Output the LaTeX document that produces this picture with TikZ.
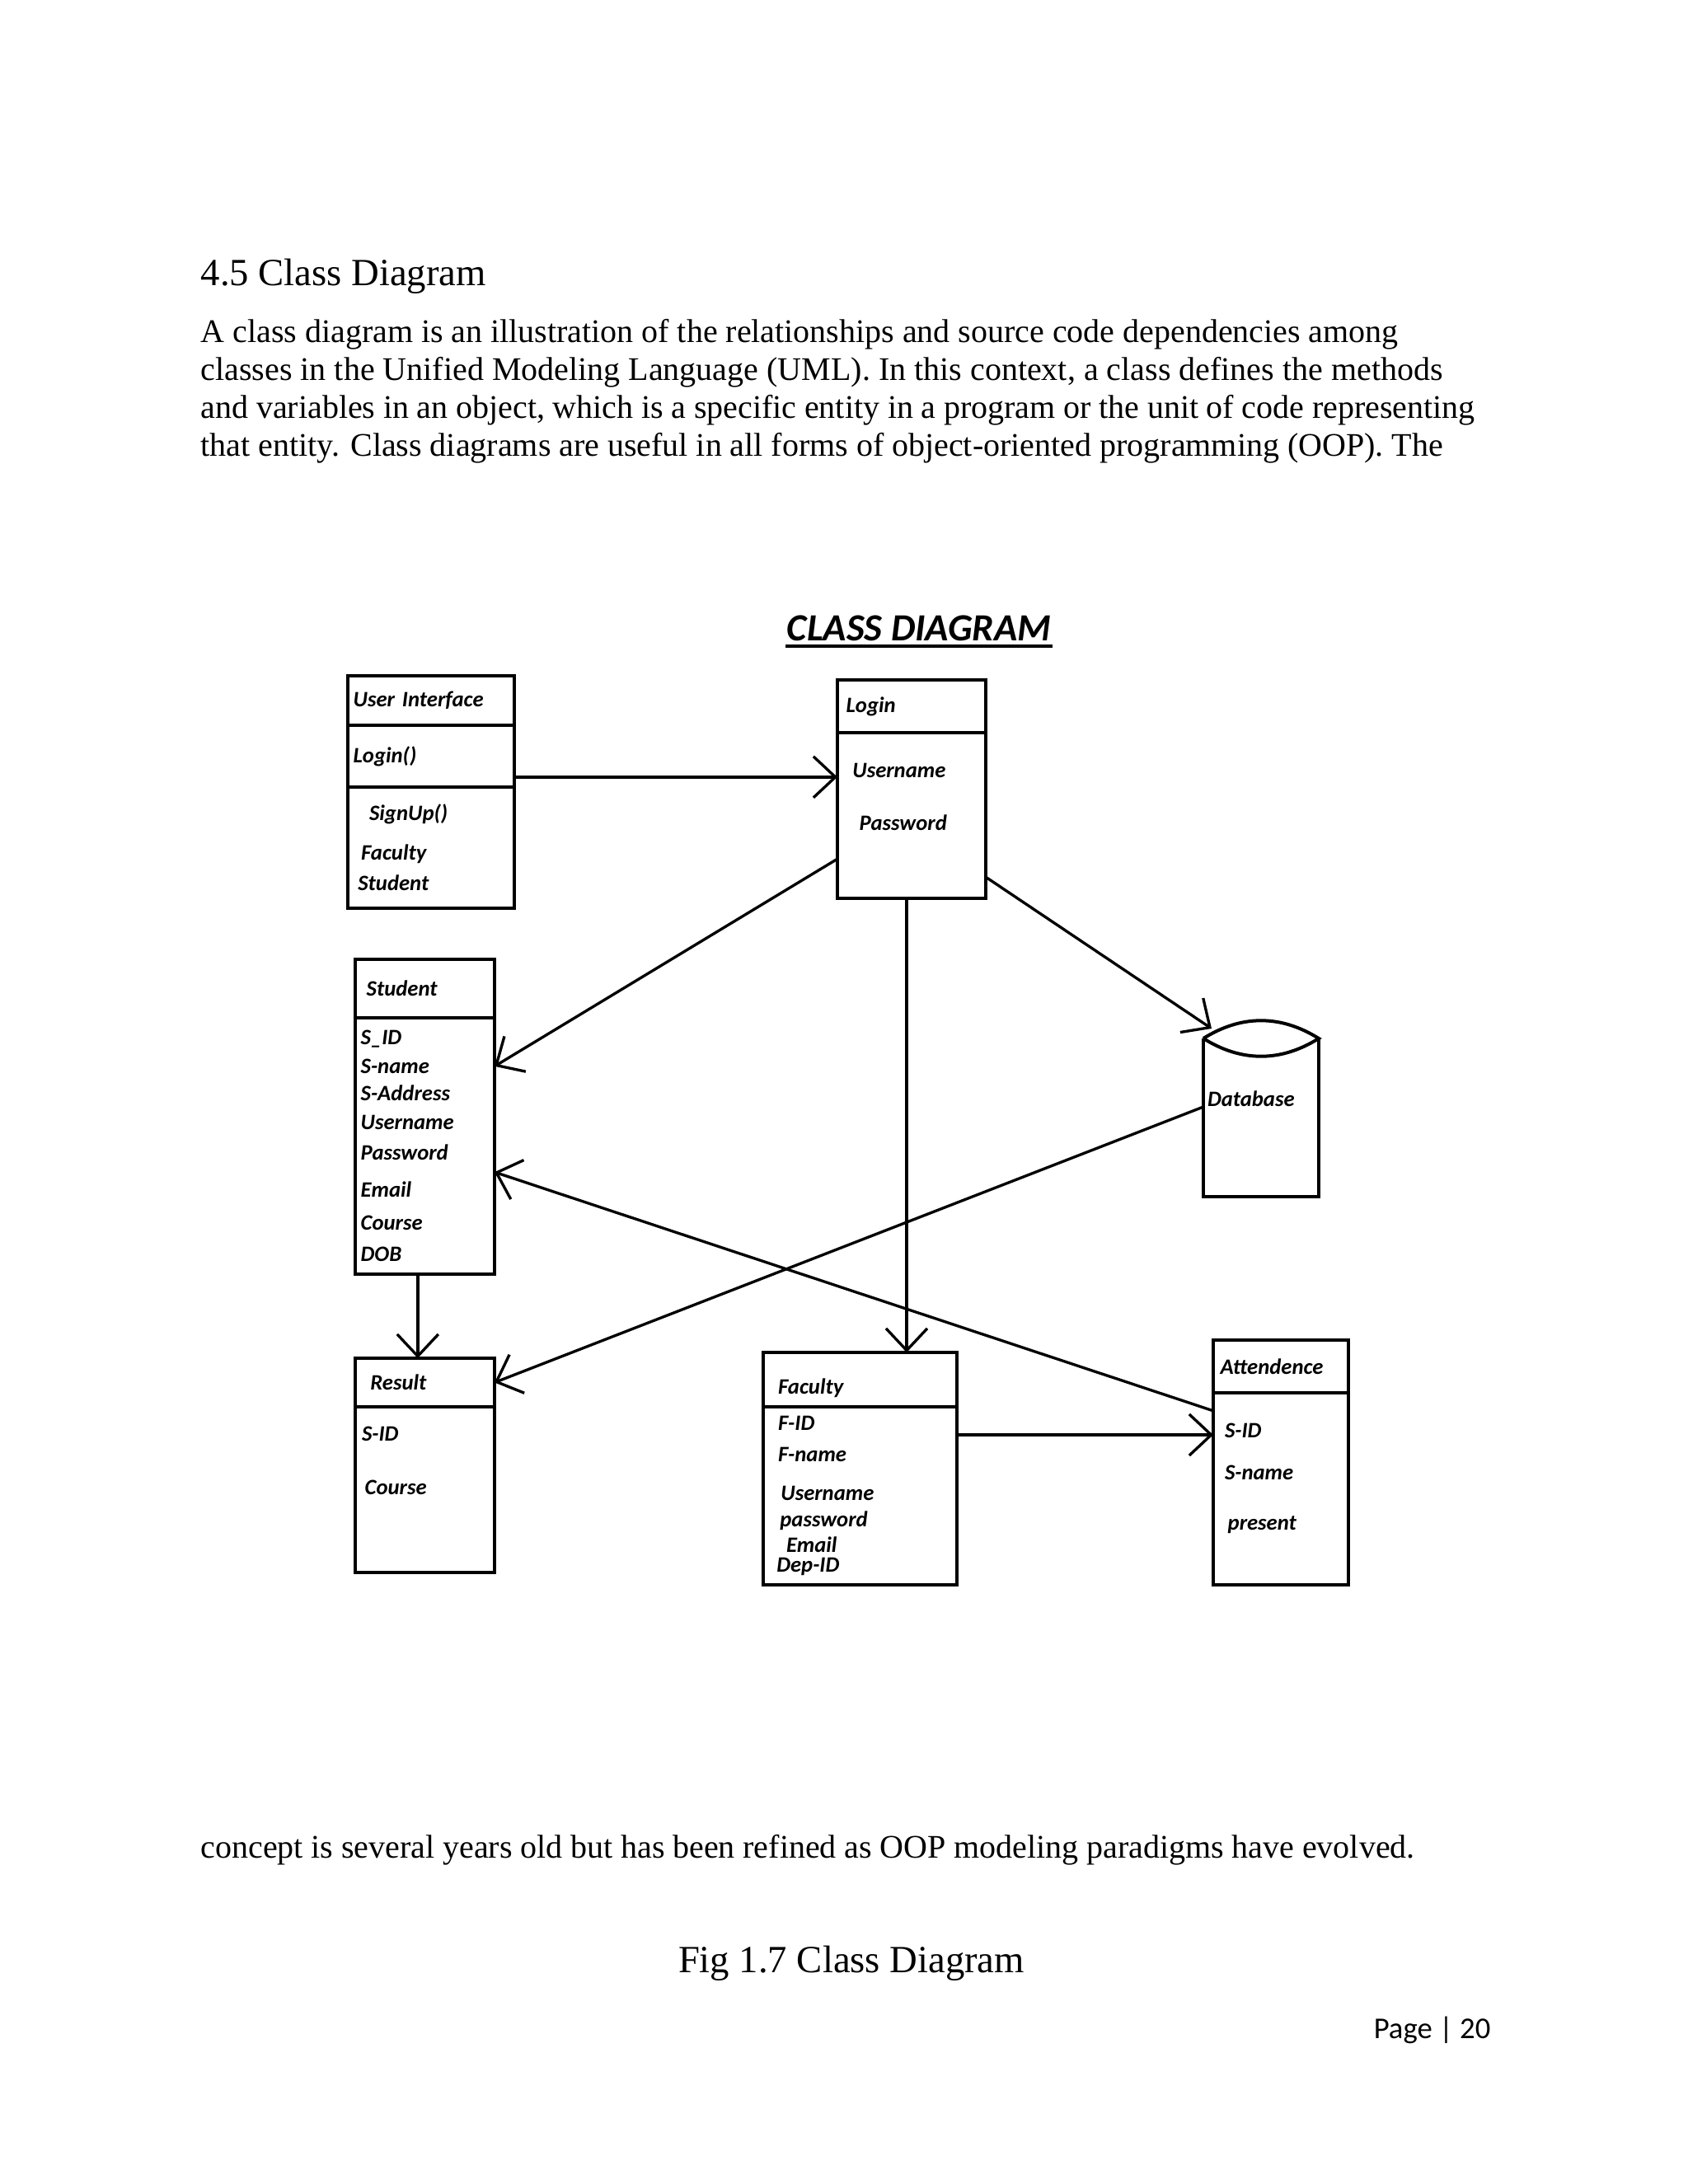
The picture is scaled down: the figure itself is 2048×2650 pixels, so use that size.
\documentclass[tikz,border=0pt]{standalone}
\usepackage{fontspec}
\setmainfont{Liberation Serif}
\newfontfamily\calibri{Carlito}
\usepackage{tikz}
\usetikzlibrary{positioning,arrows.meta}

\begin{document}
\begin{tikzpicture}[x=0.3pt,y=-0.3pt,>={Straight Barb[length=8pt,width=15pt]},line width=1pt]
\tikzstyle{cls}=[rectangle,draw=black,line width=1.2pt,outer sep=0pt,inner xsep=2pt,inner ysep=0pt,align=left,font=\calibri\bfseries\itshape\fontsize{8}{10}\selectfont]
\tikzstyle{txt}=[inner sep=0pt,anchor=base west,font=\fontsize{12}{14}\selectfont]
\useasboundingbox (0,0) rectangle (2048,2650);
% page text
\node[txt,font=\fontsize{14}{16}\selectfont] (sect) at (242,346) {4.5 Class Diagram};
\node[txt] (par1) at (242,415) {\makebox[435.9pt][s]{A class diagram is an illustration of the relationships and source code dependencies among}};
\node[txt] (par2) at (242,461) {\makebox[452.1pt][s]{classes in the Unified Modeling Language (UML). In this context, a class defines the methods}};
\node[txt] (par3) at (242,507) {\makebox[463.8pt][s]{and variables in an object, which is a specific entity in a program or the unit of code representing}};
\node[txt] (par4) at (242,553) {\makebox[452.1pt][s]{that entity. Class diagrams are useful in all forms of object-oriented programming (OOP). The}};
\node[txt] (par5) at (242,2254) {\makebox[441.9pt][s]{concept is several years old but has been refined as OOP modeling paradigms have evolved.}};
\node[txt,anchor=base,font=\fontsize{14}{16}\selectfont] (fig) at (1033,2393) {Fig 1.7 Class Diagram};
\node[txt,anchor=base east,font=\calibri\fontsize{11}{13}\selectfont] (page) at (1810,2473) {Page | 20};
% title
\node[txt,anchor=base,font=\calibri\bfseries\itshape\fontsize{14}{16}\selectfont] (title) at (1115,777) {CLASS DIAGRAM};
\draw[line width=1.3pt] ([yshift=-2pt]title.base west) -- ([yshift=-2pt]title.base east);
% classes
\node[cls,anchor=north west,text width=56.6pt,minimum height=18pt] (uih) at (422,820) {User Interface};
\node[cls,below=0pt of uih,text width=56.6pt,minimum height=22.5pt] (uim) {Login()};
\node[cls,below=0pt of uim,text width=56.6pt,minimum height=44.1pt] (uib) {\hspace*{5.8pt}SignUp()\\[4.4pt]\hspace*{2.8pt}Faculty\\[1.1pt]\hspace*{1.7pt}Student};
\node[cls,anchor=north west,text width=50pt,minimum height=19.2pt] (loginh) at (1016,825) {\hspace*{1.2pt}Login};
\node[cls,below=0pt of loginh,text width=50pt,minimum height=60.3pt] (loginb) {\hspace*{3.5pt}Username\\[9.2pt]\hspace*{6pt}Password\\[3.8pt]\mbox{}};
\node[cls,anchor=north west,text width=46.7pt,minimum height=21.3pt] (stuh) at (431,1164) {\hspace*{2.1pt}Student};
\node[cls,below=0pt of stuh,text width=46.7pt,minimum height=93.3pt] (stub) {S\_ID\\[0.5pt]S-name\\S-Address\\[0.5pt]Username\\[1.1pt]Password\\[3.5pt]Email\\[2pt]Course\\[1.4pt]DOB};
\node[cls,anchor=north west,text width=46.7pt,minimum height=17.7pt] (resh) at (431,1648) {\hspace*{3.5pt}Result};
\node[cls,below=0pt of resh,text width=46.7pt,minimum height=60.3pt] (resb) {\hspace*{0.4pt}S-ID\\[9.5pt]\hspace*{1.5pt}Course\\[10.9pt]\mbox{}};
\node[cls,anchor=north west,text width=66.5pt,text height=12pt,minimum height=19.8pt] (fach) at (926,1641) {\hspace*{3.4pt}Faculty};
\node[cls,below=0pt of fach,text width=66.5pt,minimum height=64.8pt] (facb) {\hspace*{3.4pt}F-ID\\[1.4pt]\hspace*{3.4pt}F-name\\[4.1pt]\hspace*{4.4pt}Username\\[-0.4pt]\hspace*{4.1pt}password\\[-0.7pt]\hspace*{6.4pt}Email\\[-2.8pt]\hspace*{2.9pt}Dep-ID};
\node[cls,anchor=north west,text width=45.2pt,minimum height=19.2pt] (ath) at (1472,1626) {\hspace*{0.6pt}Attendence};
\node[cls,below=0pt of ath,text width=45.2pt,minimum height=69.9pt] (atb) {\hspace*{2.2pt}S-ID\\[5.3pt]\hspace*{2.2pt}S-name\\[8.3pt]\hspace*{3.3pt}present\\[-1.1pt]\mbox{}};
% database
\node[cls,draw=none,anchor=north west,text width=39pt,inner xsep=1.5pt,minimum height=57.6pt] (db) at (1460,1260) {Database\\[3.8pt]\mbox{}};
\draw[line width=1.2pt] (db.north west) -- (db.south west) -- (db.south east) -- (db.north east);
\draw[line width=1.2pt] (db.north west) to[bend left=32] (db.north east) to[bend left=32] (db.north west);
% connectors
\draw[->] ([yshift=-7.6pt]uim.east) -- ([yshift=-7.6pt]uim.east -| loginb.west);
\draw[->] ([yshift=-15.8pt]loginb.west) -- ([yshift=29pt]stub.east);
\draw[->] ([yshift=-22.4pt]loginb.east) -- ([xshift=3pt,yshift=3.6pt]db.north west);
\draw[->] ([xshift=-1.8pt]loginb.south) -- ([xshift=-1.8pt]loginb.south |- fach.north);
\draw[->] ([xshift=-2.6pt]stub.south) -- ([xshift=-2.6pt]stub.south |- resh.north);
\draw[->] ([yshift=3.9pt]db.west) -- (resh.east);
\draw[->] ([yshift=28.4pt]atb.west) -- ([yshift=-9.5pt]stub.east);
\draw[->] ([yshift=22.2pt]facb.east) -- ([yshift=22.2pt]facb.east -| atb.west);
\end{tikzpicture}
\end{document}
